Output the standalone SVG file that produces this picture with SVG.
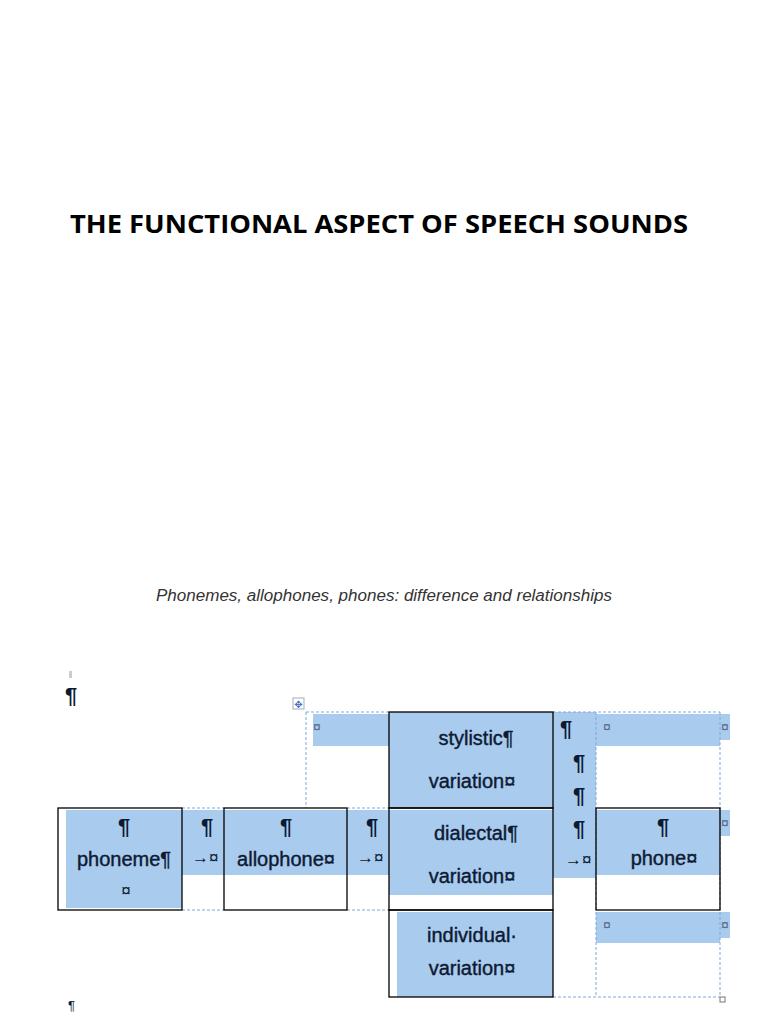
<svg xmlns="http://www.w3.org/2000/svg" width="768" height="1024" viewBox="0 0 768 1024">
<style>
.b{fill:#a9cbee}
.k{fill:none;stroke:#000;stroke-width:1.3}
.d{fill:none;stroke:#7fa7d9;stroke-width:1;stroke-dasharray:3 2}
.t{font-family:"Liberation Sans",Arial,sans-serif;font-size:20px;fill:#0d1a33;text-anchor:middle;stroke:#0d1a33;stroke-width:0.4}
.p{font-family:"Liberation Sans",Arial,sans-serif;font-size:22px;font-weight:bold;fill:#0d1a33;text-anchor:middle}
.s{font-family:"Liberation Sans",Arial,sans-serif;font-size:17px;fill:#0d1a33}
.m{font-family:"Liberation Sans",Arial,sans-serif;font-size:14px;fill:#5a6a88}
</style>
<rect width="768" height="1024" fill="#fff"/>
<text x="70" y="233" textLength="618" lengthAdjust="spacingAndGlyphs" font-family="Open Sans,Liberation Sans,sans-serif" font-weight="bold" font-size="25" fill="#000">THE FUNCTIONAL ASPECT OF SPEECH SOUNDS</text>
<text x="156" y="601" textLength="456" lengthAdjust="spacingAndGlyphs" font-family="Liberation Sans,Arial,sans-serif" font-style="italic" font-size="16" fill="#333">Phonemes, allophones, phones: difference and relationships</text>
<rect x="69" y="671" width="3" height="7" fill="#ccc"/>
<text x="71" y="703" class="p">¶</text>
<text x="68" y="1010" class="s" style="font-size:13px">¶</text>
<g id="fills">
<rect class="b" x="313" y="714" width="76" height="32"/>
<rect class="b" x="389" y="712" width="164" height="96"/>
<rect class="b" x="553" y="712" width="43" height="166"/>
<rect class="b" x="596" y="714" width="124" height="32"/>
<rect class="b" x="720" y="714" width="10" height="26"/>
<rect class="b" x="66" y="810" width="116" height="98"/>
<rect class="b" x="182" y="810" width="42" height="65"/>
<rect class="b" x="224" y="810" width="123" height="65"/>
<rect class="b" x="347" y="810" width="42" height="65"/>
<rect class="b" x="389" y="810" width="164" height="85"/>
<rect class="b" x="596" y="810" width="124" height="65"/>
<rect class="b" x="720" y="810" width="10" height="26"/>
<rect class="b" x="397" y="912" width="156" height="85"/>
<rect class="b" x="596" y="912" width="124" height="31"/>
<rect class="b" x="720" y="912" width="10" height="26"/>
</g>
<g id="grid">
<path class="d" d="M306 712V808M306 712H389M553 712H720M596 712V997M720 712V997M553 997H720M182 808H224M347 808H389M182 910H224M347 910H389"/>
<rect x="293" y="698" width="11" height="11" fill="#fff" stroke="#aab" stroke-width="1"/>
<text x="298.5" y="708" text-anchor="middle" font-size="10" fill="#3a6fc4" font-family="DejaVu Sans,sans-serif">✥</text>
<rect x="720" y="997" width="5" height="5" fill="#fff" stroke="#777" stroke-width="1"/>
</g>
<g id="phoneme"><rect class="k" x="58" y="808" width="124" height="102"/>
<text class="p" x="124" y="834">¶</text><text class="t" x="124" y="866">phoneme¶</text><text class="s" x="126" y="896" text-anchor="middle">¤</text></g>
<g id="allophone"><rect class="k" x="224" y="808" width="123" height="102"/>
<text class="p" x="286" y="834">¶</text><text class="t" x="286" y="866">allophone¤</text></g>
<g id="stylistic"><rect class="k" x="389" y="712" width="164" height="96"/>
<text class="t" x="476" y="745">stylistic¶</text><text class="t" x="472" y="788">variation¤</text></g>
<g id="dialectal"><rect class="k" x="389" y="808" width="164" height="102"/>
<text class="t" x="476" y="840">dialectal¶</text><text class="t" x="472" y="883">variation¤</text></g>
<g id="individual"><rect class="k" x="389" y="910" width="164" height="87"/>
<text class="t" x="472" y="942">individual·</text><text class="t" x="472" y="975">variation¤</text></g>
<g id="phone"><rect class="k" x="596" y="808" width="124" height="102"/>
<text class="p" x="663" y="834">¶</text><text class="t" x="664" y="865">phone¤</text></g>
<g id="marks">
<text class="p" x="207" y="834">¶</text><text class="s" x="192" y="863">→¤</text>
<text class="p" x="372" y="834">¶</text><text class="s" x="357" y="863">→¤</text>
<text class="p" x="566" y="736">¶</text><text class="p" x="579" y="770">¶</text><text class="p" x="579" y="803">¶</text><text class="p" x="579" y="836">¶</text><text class="s" x="565" y="865">→¤</text>
<text class="m" x="313" y="732">¤</text><text class="m" x="603" y="732">¤</text><text class="m" x="721" y="732">¤</text>
<text class="m" x="721" y="828">¤</text><text class="m" x="603" y="930">¤</text><text class="m" x="721" y="930">¤</text>
</g>
</svg>
